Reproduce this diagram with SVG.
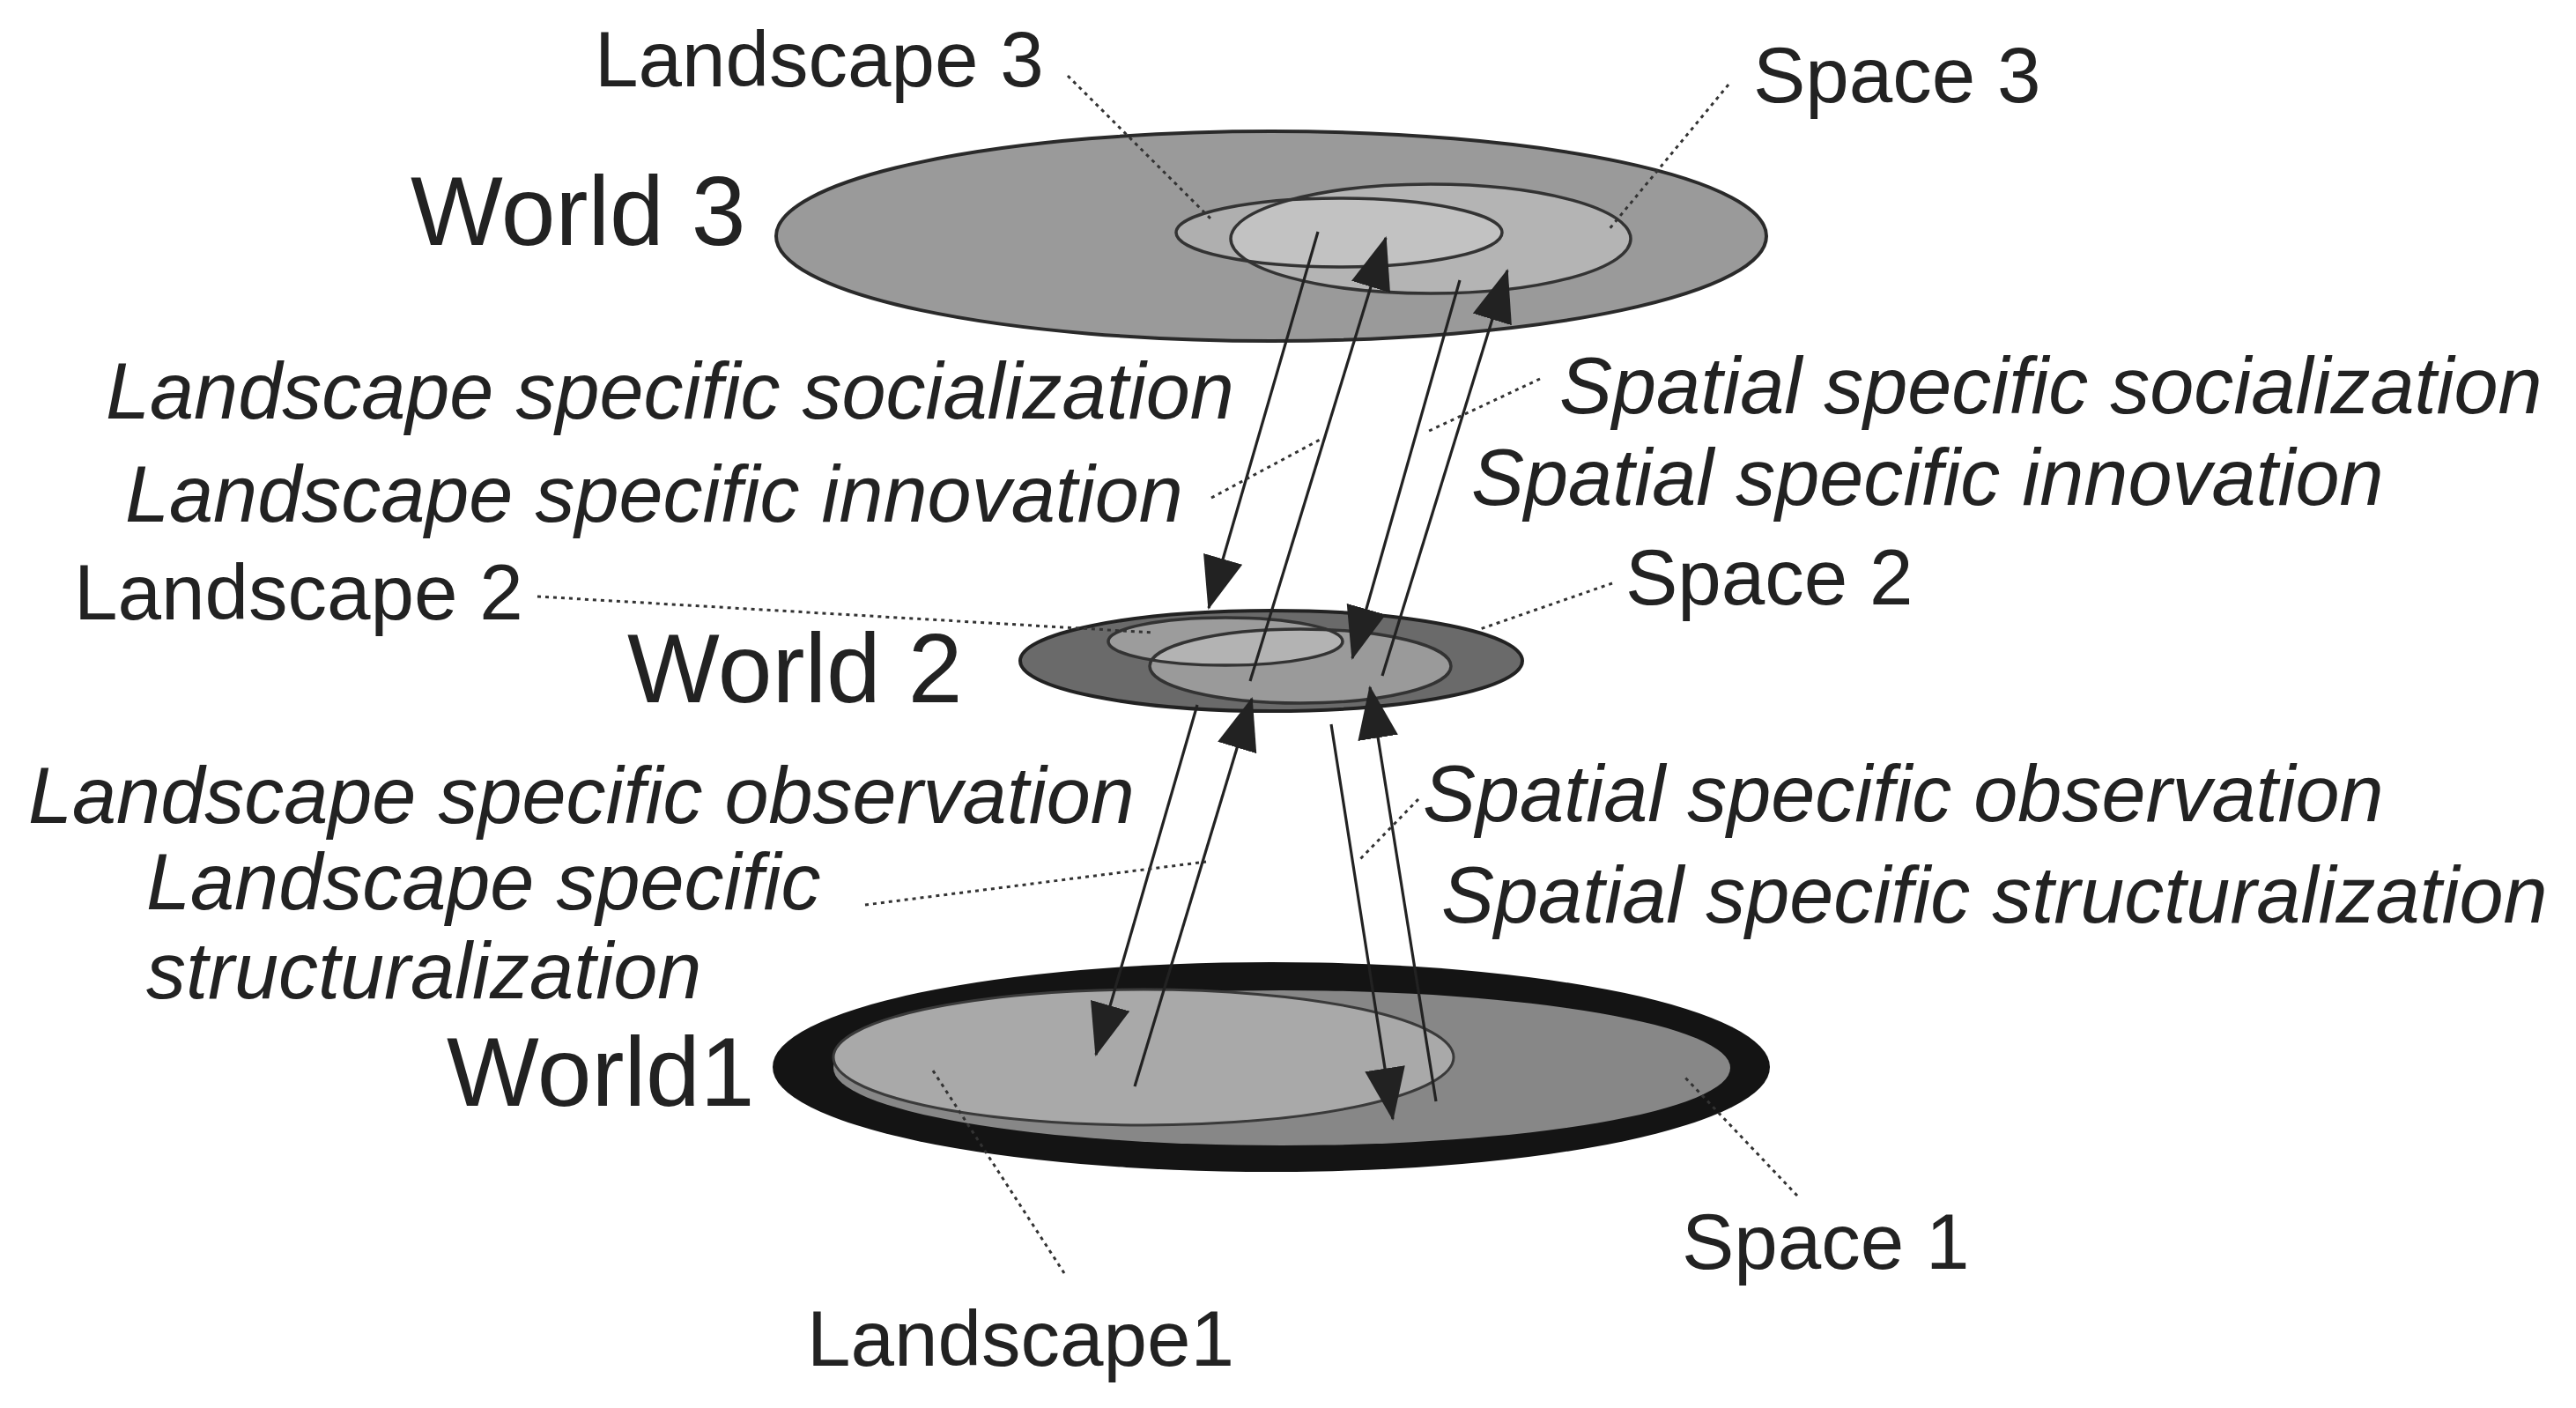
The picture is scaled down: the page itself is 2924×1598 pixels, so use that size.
<svg xmlns="http://www.w3.org/2000/svg" width="2924" height="1598" viewBox="0 0 2924 1598">
<style>
text{font-family:"Liberation Sans",Arial,sans-serif;fill:#222}
.lbl{font-size:89px}
.world{font-size:111px}
.it{font-size:90px;font-style:italic}
.arrow{stroke:#222;stroke-width:3.2;fill:none}
.lead{stroke:#333;stroke-width:3;fill:none;stroke-dasharray:4 5}
.edge{fill:none;stroke:#333;stroke-width:3.5}
</style>
<defs>
<marker id="ah" markerUnits="userSpaceOnUse" markerWidth="62" markerHeight="48" refX="58" refY="23" orient="auto">
<path d="M0,0 L60,23 L0,46 Z" fill="#222"/>
</marker>
<clipPath id="cS3"><ellipse cx="1624" cy="271" rx="227" ry="62"/></clipPath>
<clipPath id="cS2"><ellipse cx="1476" cy="756" rx="171" ry="42"/></clipPath>
</defs>
<rect width="2924" height="1598" fill="#fff"/>

<g id="world3">
<ellipse cx="1443" cy="268" rx="562" ry="119" fill="#9a9a9a" stroke="#2a2a2a" stroke-width="4"/>
<ellipse cx="1520" cy="264" rx="185" ry="39" fill="#afafaf"/>
<ellipse cx="1624" cy="271" rx="227" ry="62" fill="#b4b4b4"/>
<ellipse cx="1520" cy="264" rx="185" ry="39" fill="#c2c2c2" clip-path="url(#cS3)"/>
<ellipse class="edge" cx="1624" cy="271" rx="227" ry="62"/>
<ellipse class="edge" cx="1520" cy="264" rx="185" ry="39"/>
</g>

<g id="world2">
<ellipse cx="1443" cy="750" rx="285" ry="57" fill="#6a6a6a" stroke="#222" stroke-width="4"/>
<ellipse cx="1391" cy="728" rx="133" ry="27" fill="#9c9c9c"/>
<ellipse cx="1476" cy="756" rx="171" ry="42" fill="#9a9a9a"/>
<ellipse cx="1391" cy="728" rx="133" ry="27" fill="#b3b3b3" clip-path="url(#cS2)"/>
<ellipse class="edge" cx="1476" cy="756" rx="171" ry="42" stroke="#2a2a2a"/>
<ellipse class="edge" cx="1391" cy="728" rx="133" ry="27" stroke="#2a2a2a"/>
</g>

<g id="world1">
<ellipse cx="1443" cy="1211" rx="566" ry="119" fill="#141414"/>
<ellipse cx="1455" cy="1212" rx="509" ry="88" fill="#878787"/>
<ellipse cx="1298" cy="1200" rx="352" ry="77" fill="#a9a9a9" stroke="#3a3a3a" stroke-width="3"/>
</g>

<g id="connectors">
<line class="arrow" x1="1496" y1="263" x2="1372" y2="690" marker-end="url(#ah)"/>
<line class="arrow" x1="1419" y1="773" x2="1573" y2="270" marker-end="url(#ah)"/>
<line class="arrow" x1="1657" y1="318" x2="1535" y2="747" marker-end="url(#ah)"/>
<line class="arrow" x1="1569" y1="767" x2="1711" y2="307" marker-end="url(#ah)"/>
<line class="arrow" x1="1359" y1="800" x2="1244" y2="1197" marker-end="url(#ah)"/>
<line class="arrow" x1="1288" y1="1233" x2="1421" y2="793" marker-end="url(#ah)"/>
<line class="arrow" x1="1511" y1="822" x2="1581" y2="1270" marker-end="url(#ah)"/>
<line class="arrow" x1="1630" y1="1250" x2="1555" y2="780" marker-end="url(#ah)"/>
</g>

<g id="leaders">
<line class="lead" x1="1212" y1="86" x2="1376" y2="250"/>
<line class="lead" x1="1962" y1="96" x2="1825" y2="262"/>
<line class="lead" x1="1375" y1="565" x2="1500" y2="498"/>
<line class="lead" x1="1748" y1="430" x2="1620" y2="490"/>
<line class="lead" x1="610" y1="677" x2="1310" y2="718"/>
<line class="lead" x1="1830" y1="662" x2="1680" y2="714"/>
<line class="lead" x1="982" y1="1027" x2="1369" y2="978"/>
<line class="lead" x1="1610" y1="907" x2="1542" y2="977"/>
<line class="lead" x1="1208" y1="1445" x2="1057" y2="1212"/>
<line class="lead" x1="2040" y1="1357" x2="1910" y2="1220"/>
</g>

<g id="labels">
<text class="lbl" x="675" y="98">Landscape 3</text>
<text class="lbl" x="1990" y="116">Space 3</text>
<text class="world" x="466" y="278">World 3</text>
<text class="it" x="120" y="475">Landscape specific socialization</text>
<text class="it" x="1770" y="469">Spatial specific socialization</text>
<text class="it" x="142" y="592">Landscape specific innovation</text>
<text class="it" x="1670" y="573">Spatial specific innovation</text>
<text class="lbl" x="84" y="703">Landscape 2</text>
<text class="lbl" x="1845" y="686">Space 2</text>
<text class="world" x="712" y="797">World 2</text>
<text class="it" x="32" y="934">Landscape specific observation</text>
<text class="it" x="1615" y="932">Spatial specific observation</text>
<text class="it" x="166" y="1032">Landscape specific</text>
<text class="it" x="166" y="1133">structuralization</text>
<text class="it" x="1636" y="1047">Spatial specific structuralization</text>
<text class="world" x="507" y="1255">World1</text>
<text class="lbl" x="1909" y="1440">Space 1</text>
<text class="lbl" x="916" y="1550">Landscape1</text>
</g>
</svg>
